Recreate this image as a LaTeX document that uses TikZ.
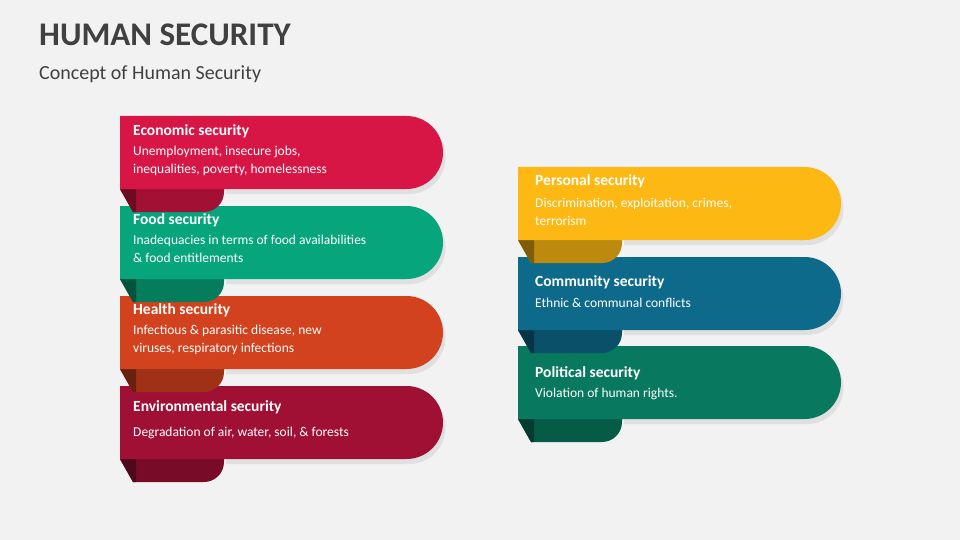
\documentclass[tikz,border=0pt]{standalone}
\usepackage{fontspec}
\setmainfont{Carlito}
\definecolor{cEco}{HTML}{D81645}
\definecolor{cFood}{HTML}{06A57B}
\definecolor{cHealth}{HTML}{D2421E}
\definecolor{cEnv}{HTML}{A01035}
\definecolor{cPers}{HTML}{FDB813}
\definecolor{cComm}{HTML}{0E6A8A}
\definecolor{cPol}{HTML}{08795E}
\begin{document}
\begin{tikzpicture}[x=1pt,y=-1pt,
  ttl/.style={anchor=west,inner sep=0,font=\bfseries\fontsize{15.5}{18}\selectfont,text=white},
  dsc/.style={anchor=north west,inner sep=0,align=left,font=\fontsize{13.5}{18}\selectfont,text=white}]
\fill[white!95!black] (0,0) rectangle (960,540);
\node[anchor=west,inner sep=0,font=\bfseries\fontsize{33}{36}\selectfont,text=black!75] (T) at (39,35) {HUMAN SECURITY};
\node[anchor=west,inner sep=0,font=\fontsize{20}{24}\selectfont,text=black!75] (S) at (39,74) {Concept of Human Security};
\newcommand\bandx[3]{%
  \fill[#3!75!black] (#1,#2+73) -- (#1+13,#2+96) -- (#1+84,#2+96) arc[start angle=90,end angle=0,radius=20] -- (#1+104,#2+73) -- cycle;
  \fill[#3!50!black] (#1,#2+73) -- (#1+13,#2+96) -- (#1+16,#2+96) -- (#1+16,#2+73) -- cycle;
  \fill[black!12] (#1+106,#2+5) -- (#1+289,#2+5) arc[start angle=-90,end angle=90,radius=36.5] -- (#1+106,#2+78) -- cycle;
  \fill[#3] (#1,#2) -- (#1+286.5,#2) arc[start angle=-90,end angle=90,radius=36.5] -- (#1,#2+73) -- cycle;}
\bandx{120}{386}{cEnv}
\bandx{120}{296}{cHealth}
\bandx{120}{206}{cFood}
\bandx{120}{116}{cEco}
\bandx{518}{346}{cPol}
\bandx{518}{257}{cComm}
\bandx{518}{167}{cPers}
\node[ttl] (t1) at (133,131) {Economic security};
\node[dsc] (d1) at (133,146) {Unemployment, insecure jobs,\\inequalities, poverty, homelessness};
\node[ttl] (t2) at (133,220) {Food security};
\node[dsc] (d2) at (133,235) {Inadequacies in terms of food availabilities\\\& food entitlements};
\node[ttl] (t3) at (133,310) {Health security};
\node[dsc] (d3) at (133,325) {Infectious \& parasitic disease, new\\viruses, respiratory infections};
\node[ttl] (t4) at (133,407) {Environmental security};
\node[dsc] (d4) at (133,427) {Degradation of air, water, soil, \& forests};
\node[ttl] (t5) at (535,181) {Personal security};
\node[dsc] (d5) at (535,198) {Discrimination, exploitation, crimes,\\terrorism};
\node[ttl] (t6) at (535,282) {Community security};
\node[dsc] (d6) at (535,298) {Ethnic \& communal conflicts};
\node[ttl] (t7) at (535,373) {Political security};
\node[dsc] (d7) at (535,388) {Violation of human rights.};
\end{tikzpicture}
\end{document}
